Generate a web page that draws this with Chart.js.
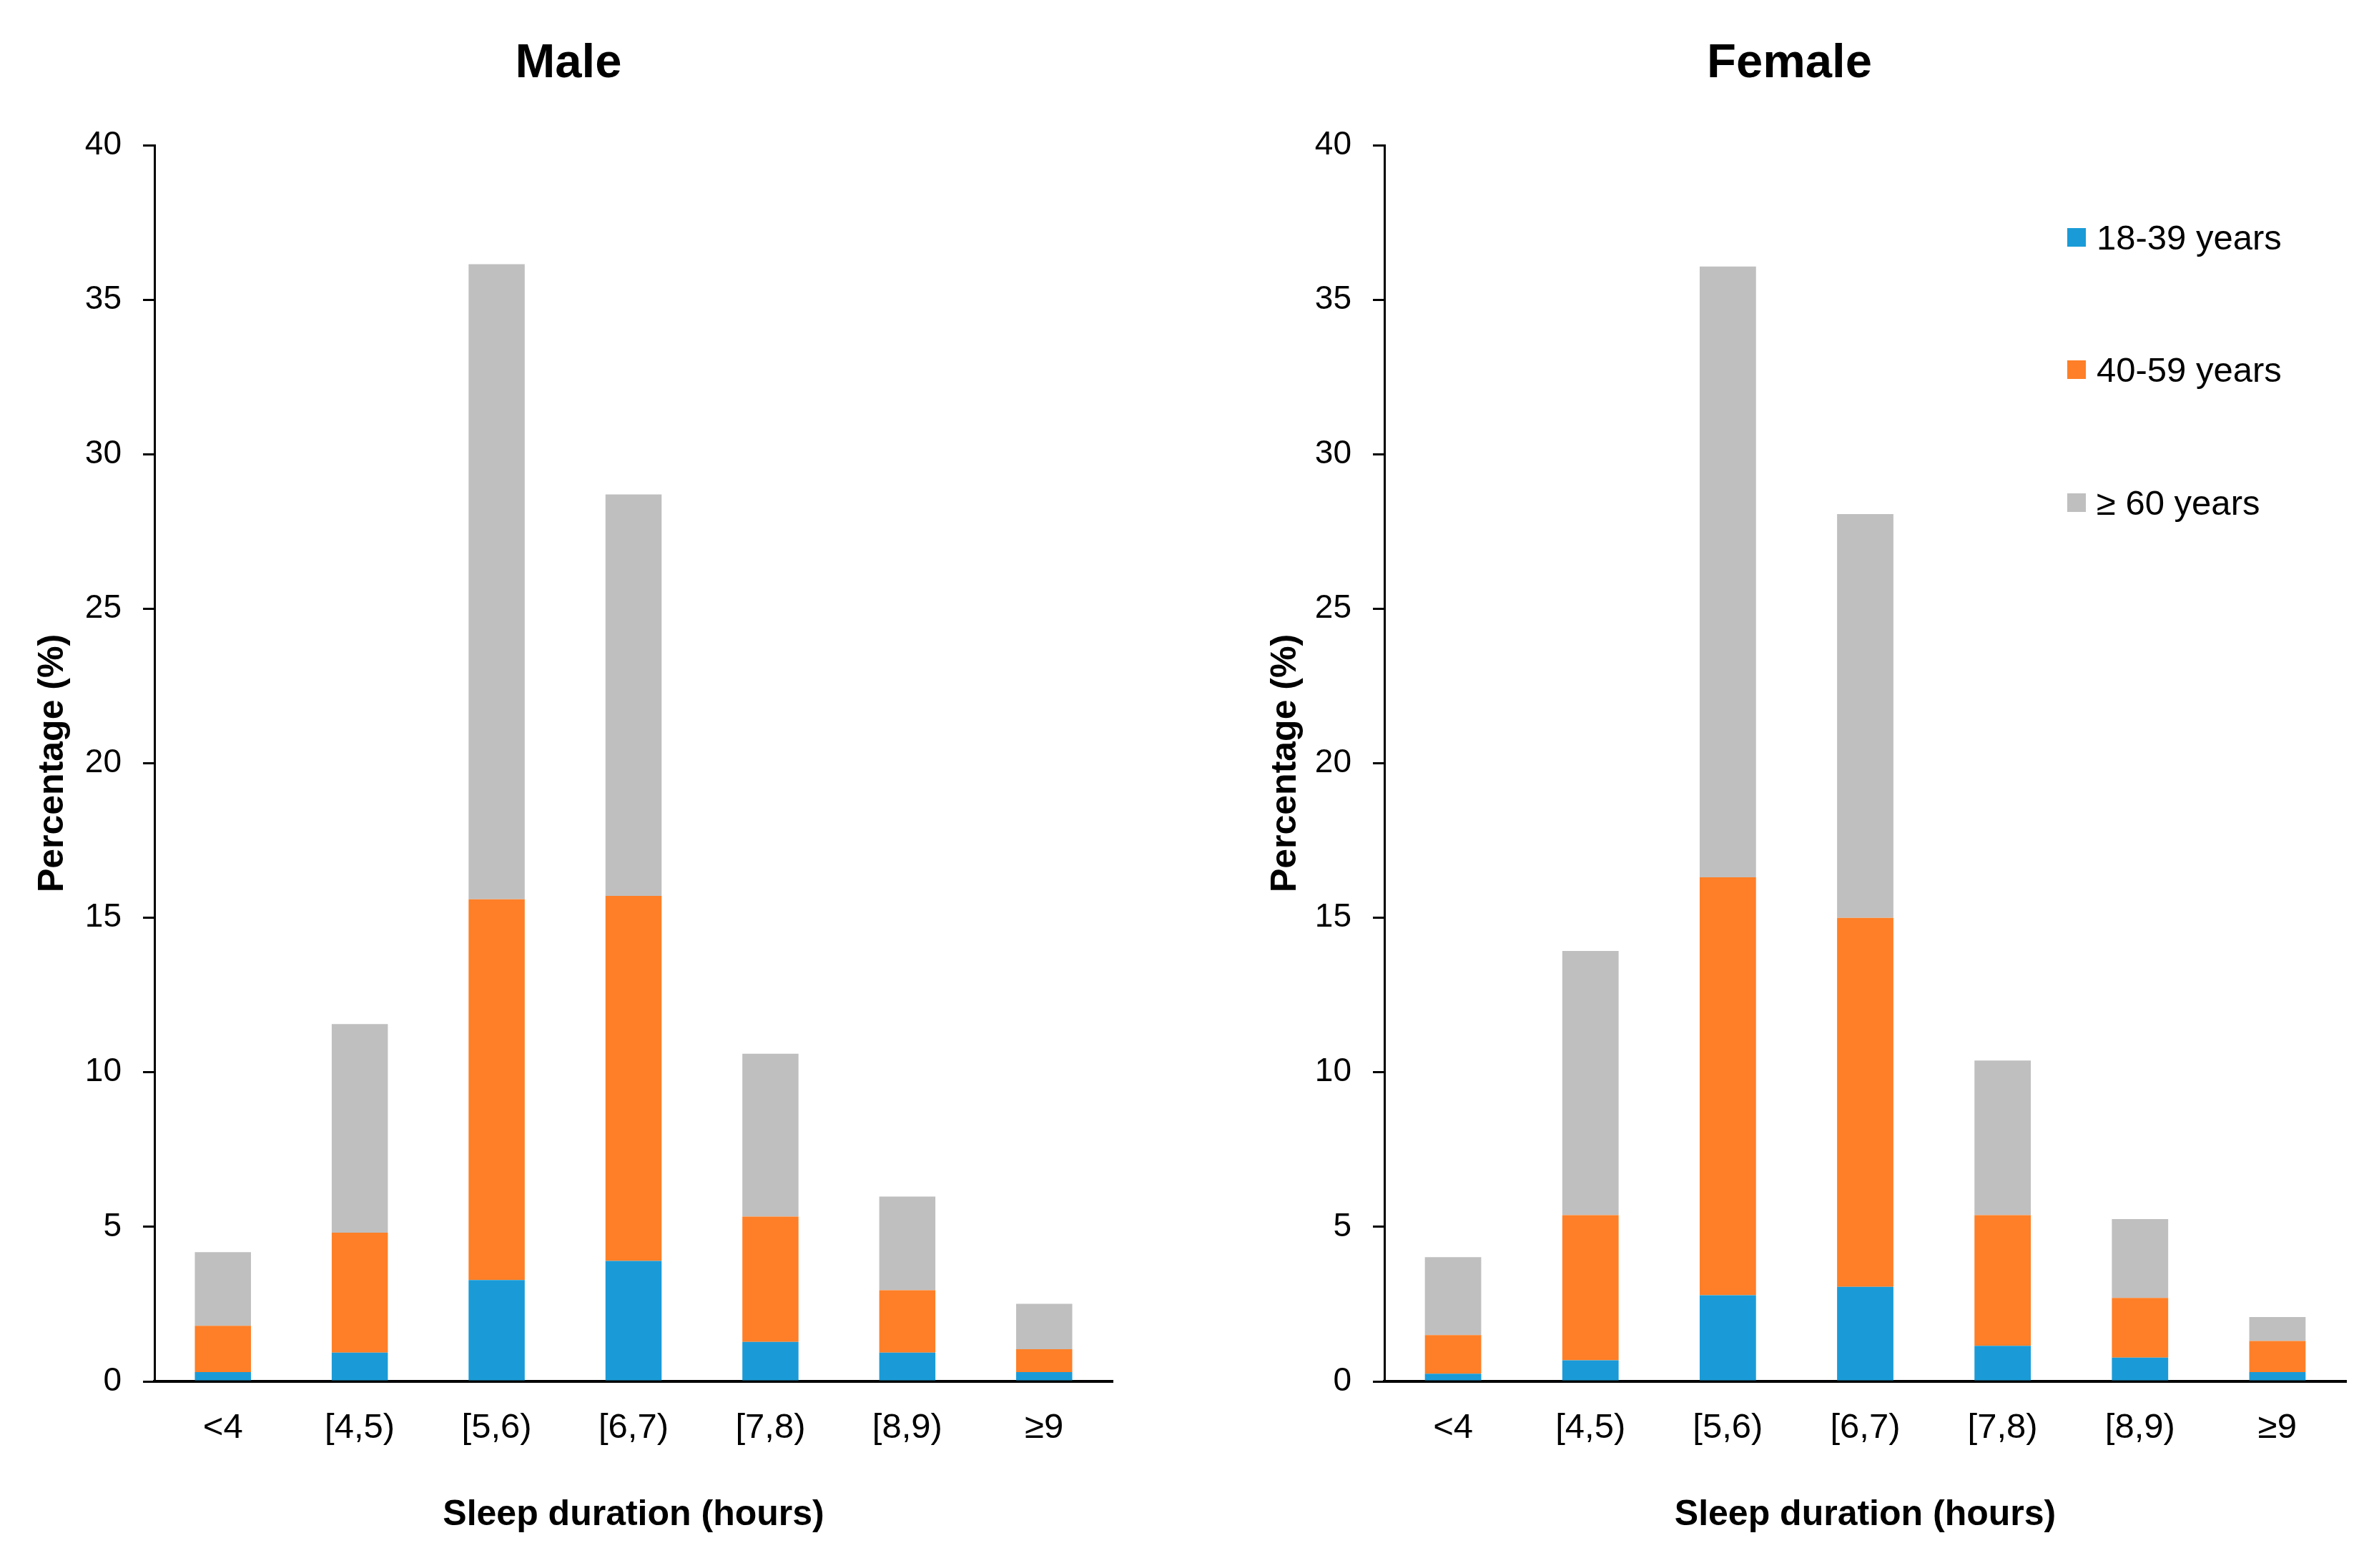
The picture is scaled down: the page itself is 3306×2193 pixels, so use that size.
<!DOCTYPE html>
<html>
<head>
<meta charset="utf-8">
<script src="https://cdn.jsdelivr.net/npm/chart.js@4.4.1/dist/chart.umd.min.js"></script>
<style>
  body { margin: 0; width: 3306px; height: 2193px; background: #fff; position: relative; overflow: hidden; }
  canvas { position: absolute; top: 0; }
  #maleChart { left: 0; }
  #femaleChart { left: 1724px; }
  .legend-row { position: absolute; left: 2891px; height: 60px; display: flex; align-items: center;
    font-family: "Liberation Sans", Arial, sans-serif; font-size: 49px; color: #000; white-space: nowrap; }
  .legend-row span.box { display: inline-block; width: 26px; height: 26px; margin-right: 15px; }
</style>
</head>
<body>
<canvas id="maleChart" width="1590" height="2193"></canvas>
<canvas id="femaleChart" width="1582" height="2193"></canvas>
<div id="legend"></div>
<script>
// categories and tick labels
var sleepCategories = ['<4', '[4,5)', '[5,6)', '[6,7)', '[7,8)', '[8,9)', '≥9'];
var yTicks = [0, 5, 10, 15, 20, 25, 30, 35, 40];
var ageGroups = ['18-39 years', '40-59 years', '≥ 60 years'];

// Male: percentage of each age group per sleep duration (stacked)
var male18to39 = [0.3, 0.93, 3.28, 3.9, 1.28, 0.93, 0.3];
var male40to59 = [1.5, 3.88, 12.32, 11.81, 4.05, 2.02, 0.74];
var male60plus = [2.38, 6.75, 20.55, 12.99, 5.27, 3.03, 1.47];

// Female
var female18to39 = [0.25, 0.68, 2.79, 3.06, 1.15, 0.77, 0.3];
var female40to59 = [1.25, 4.7, 13.52, 11.94, 4.23, 1.93, 1.01];
var female60plus = [2.52, 8.55, 19.76, 13.06, 5.0, 2.55, 0.77];

var colors = ['#1a9bd7', '#fe7f27', '#bfbfbf'];
var fontFamily = '"Liberation Sans", Arial, sans-serif';

function buildChart(canvasId, title, series, padLeft, yWidth, padRight, yTitlePad) {
  var ctx = document.getElementById(canvasId).getContext('2d');
  return new Chart(ctx, {
    type: 'bar',
    data: {
      labels: sleepCategories,
      datasets: series.map(function (values, i) {
        return {
          label: ageGroups[i],
          data: values,
          backgroundColor: colors[i],
          borderWidth: 0,
          barPercentage: 0.41,
          categoryPercentage: 1.0
        };
      })
    },
    options: {
      responsive: false,
      devicePixelRatio: 1,
      animation: false,
      layout: { padding: { left: padLeft, right: padRight, top: 0, bottom: 0 } },
      plugins: {
        legend: { display: false },
        tooltip: { enabled: false },
        title: {
          display: true,
          text: title,
          color: '#000',
          font: { family: fontFamily, size: 67, weight: 'bold' },
          padding: { top: 49, bottom: 73.6 }
        }
      },
      scales: {
        x: {
          stacked: true,
          grid: { display: false },
          border: { display: true, color: '#000', width: 4 },
          ticks: {
            color: '#000',
            padding: 28,
            maxRotation: 0,
            font: { family: fontFamily, size: 49 }
          },
          title: {
            display: true,
            text: 'Sleep duration (hours)',
            color: '#000',
            font: { family: fontFamily, size: 50, weight: 'bold' },
            padding: { top: 0, bottom: 44 }
          },
          afterFit: function (scale) { scale.height = 261; }
        },
        y: {
          stacked: true,
          min: 0,
          max: 40,
          afterBuildTicks: function (scale) {
            scale.ticks = yTicks.map(function (v) { return { value: v }; });
          },
          grid: {
            display: true,
            drawOnChartArea: false,
            drawTicks: true,
            tickLength: 16,
            color: '#000',
            lineWidth: 3
          },
          border: { display: true, color: '#000', width: 3 },
          ticks: {
            color: '#000',
            padding: 30,
            font: { family: fontFamily, size: 46 }
          },
          title: {
            display: true,
            text: 'Percentage (%)',
            color: '#000',
            font: { family: fontFamily, size: 50, weight: 'bold' },
            padding: { top: yTitlePad, bottom: 0 }
          },
          afterFit: function (scale) { scale.width = yWidth; }
        }
      }
    }
  });
}

var maleChart = buildChart('maleChart', 'Male', [male18to39, male40to59, male60plus], 34, 182, 34, 10);
var femaleChart = buildChart('femaleChart', 'Female', [female18to39, female40to59, female60plus], 0, 212, 25, 44);

// legend inside the female plot, built from the chart's datasets
var legendTops = [302, 487, 673];
var legend = document.getElementById('legend');
femaleChart.data.datasets.forEach(function (ds, i) {
  var row = document.createElement('div');
  row.className = 'legend-row';
  row.style.top = legendTops[i] + 'px';
  var box = document.createElement('span');
  box.className = 'box';
  box.style.background = ds.backgroundColor;
  row.appendChild(box);
  row.appendChild(document.createTextNode(ds.label));
  legend.appendChild(row);
});
</script>
</body>
</html>
